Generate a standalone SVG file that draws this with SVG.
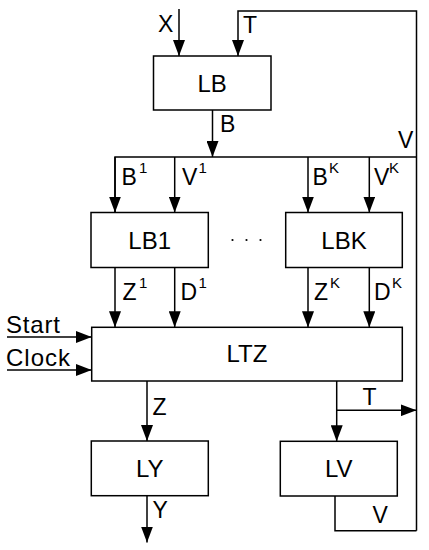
<svg xmlns="http://www.w3.org/2000/svg" width="429" height="550" viewBox="0 0 429 550">
<style>
.box{fill:#fff;stroke:#000;stroke-width:1.5}
.ln{fill:none;stroke:#000;stroke-width:1.5}
.bl{font-family:"Liberation Sans",Arial,sans-serif;font-size:24px;fill:#000;text-anchor:middle}
.el{font-family:"Liberation Sans",Arial,sans-serif;font-size:23px;fill:#000}
.sup{font-family:"Liberation Sans",Arial,sans-serif;font-size:15px;fill:#000}
</style>
<defs>
<marker id="ah" viewBox="0 0 16 12" refX="16" refY="6" markerWidth="16" markerHeight="12" markerUnits="userSpaceOnUse" orient="auto">
<path d="M0,0 L16,6 L0,12 z" fill="#000"/>
</marker>
</defs>
<rect width="429" height="550" fill="#fff"/>
<g id="connectors">
<line class="ln" x1="179" y1="9" x2="179" y2="56" marker-end="url(#ah)"/>
<polyline class="ln" points="416.5,530.7 416.5,11 238,11 238,56" marker-end="url(#ah)"/>
<line class="ln" x1="212.5" y1="110" x2="212.5" y2="157" marker-end="url(#ah)"/>
<polyline class="ln" points="115,212.5 115,157 416.5,157"/>
<line class="ln" x1="115" y1="157" x2="115" y2="212.5" marker-end="url(#ah)"/>
<line class="ln" x1="174.7" y1="157" x2="174.7" y2="212.5" marker-end="url(#ah)"/>
<line class="ln" x1="308" y1="157" x2="308" y2="212.5" marker-end="url(#ah)"/>
<line class="ln" x1="369.3" y1="157" x2="369.3" y2="212.5" marker-end="url(#ah)"/>
<line class="ln" x1="115" y1="267.5" x2="115" y2="327.3" marker-end="url(#ah)"/>
<line class="ln" x1="174.7" y1="267.5" x2="174.7" y2="327.3" marker-end="url(#ah)"/>
<line class="ln" x1="308" y1="267.5" x2="308" y2="327.3" marker-end="url(#ah)"/>
<line class="ln" x1="369.3" y1="267.5" x2="369.3" y2="327.3" marker-end="url(#ah)"/>
<line class="ln" x1="7" y1="337" x2="91.7" y2="337" marker-end="url(#ah)"/>
<line class="ln" x1="7" y1="370" x2="91.7" y2="370" marker-end="url(#ah)"/>
<line class="ln" x1="147" y1="381" x2="147" y2="441" marker-end="url(#ah)"/>
<line class="ln" x1="147" y1="495.7" x2="147" y2="542.5" marker-end="url(#ah)"/>
<line class="ln" x1="336.7" y1="381" x2="336.7" y2="441.3" marker-end="url(#ah)"/>
<line class="ln" x1="336.7" y1="410.3" x2="416.5" y2="410.3" marker-end="url(#ah)"/>
<polyline class="ln" points="335,496 335,530.7 416.5,530.7"/>
<text class="el" x="158" y="32">X</text>
<text class="el" x="243" y="33">T</text>
<text class="el" x="220" y="132">B</text>
<text class="el" x="398" y="148">V</text>
<text class="el" x="121.5" y="185">B</text><text class="sup" x="139" y="173">1</text>
<text class="el" x="182" y="185">V</text><text class="sup" x="198.5" y="173">1</text>
<text class="el" x="312.5" y="185">B</text><text class="sup" x="329" y="173">K</text>
<text class="el" x="374" y="185">V</text><text class="sup" x="389" y="173">K</text>
<text class="el" x="122.5" y="300">Z</text><text class="sup" x="139" y="288">1</text>
<text class="el" x="180.5" y="300">D</text><text class="sup" x="198.5" y="288">1</text>
<text class="el" x="314" y="300">Z</text><text class="sup" x="330" y="288">K</text>
<text class="el" x="374" y="300">D</text><text class="sup" x="392" y="288">K</text>
<text class="el" x="6" y="332.7" style="font-size:24px" textLength="54">Start</text>
<text class="el" x="6" y="365.7" style="font-size:24px" textLength="64">Clock</text>
<text class="el" x="152.5" y="415">Z</text>
<text class="el" x="152.5" y="518">Y</text>
<text class="el" x="362.5" y="405">T</text>
<text class="el" x="372.5" y="523">V</text>
</g>
<g id="LB"><rect class="box" x="153.5" y="56" width="117.5" height="54"/><text class="bl" x="212.2" y="91.6">LB</text></g>
<g id="LB1"><rect class="box" x="91" y="212.5" width="117.3" height="55"/><text class="bl" x="149.7" y="248.6">LB1</text></g>
<g id="dots"><circle cx="232.5" cy="240" r="1.1" fill="#000"/><circle cx="246.5" cy="240" r="1.1" fill="#000"/><circle cx="260.5" cy="240" r="1.1" fill="#000"/></g>
<g id="LBK"><rect class="box" x="285.7" y="212.5" width="116.6" height="55"/><text class="bl" x="344" y="248.6">LBK</text></g>
<g id="LTZ"><rect class="box" x="91.7" y="327.3" width="310.6" height="53.7"/><text class="bl" x="247" y="362.3">LTZ</text></g>
<g id="LY"><rect class="box" x="91.3" y="441" width="117" height="54.7"/><text class="bl" x="149.8" y="476.6">LY</text></g>
<g id="LV"><rect class="box" x="280.3" y="441.3" width="117" height="54.7"/><text class="bl" x="338.8" y="477">LV</text></g>
</svg>
